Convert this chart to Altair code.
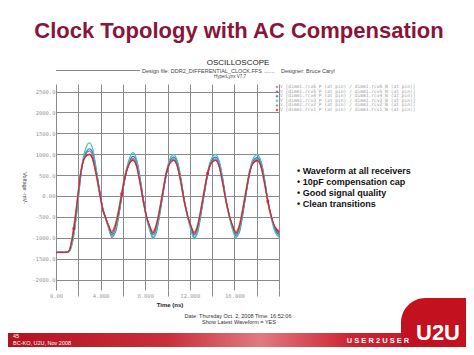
import altair as alt
import pandas as pd

# ---------------- data ----------------
t_ns = [0, 0.5, 1.0, 1.2, 1.4, 1.6, 1.8, 2.0, 2.2, 2.4,
        2.65, 3.0, 3.3, 3.6, 3.9, 4.2, 4.45, 4.7, 5.0, 5.3,
        5.6, 5.9, 6.2, 6.5, 6.9, 7.25, 7.55, 7.85, 8.1, 8.4,
        8.7, 9.0, 9.3, 9.6, 9.9, 10.2, 10.55, 10.9, 11.2, 11.5,
        11.8, 12.1, 12.4, 12.7, 13.0, 13.3, 13.6, 13.9, 14.3, 14.65,
        14.95, 15.25, 15.55, 15.85, 16.15, 16.45, 16.75, 17.05, 17.35, 17.65,
        18.05, 18.4, 18.7, 19.0, 19.3, 19.6, 20.0]

rcv6 = [-1350, -1350, -1348, -1315, -1150, -850, -450, 20, 480, 800,
        990, 1080, 960, 600, 130, -320, -530, -730, -920, -820,
        -470, 0, 460, 760, 900, 760, 360, -120, -480, -760,
        -930, -780, -390, 80, 540, 800, 890, 750, 370, -100,
        -480, -760, -940, -780, -390, 80, 530, 800, 890, 750,
        360, -110, -480, -760, -920, -780, -390, 80, 540, 800,
        880, 750, 360, -120, -490, -760, -910]
rcv5 = [-1350, -1350, -1345, -1310, -1120, -800, -400, 60, 500, 780,
        940, 990, 890, 570, 130, -300, -520, -740, -990, -860,
        -460, 20, 450, 720, 850, 710, 330, -130, -470, -740,
        -920, -750, -360, 90, 530, 770, 850, 710, 350, -110,
        -470, -740, -920, -750, -360, 90, 520, 770, 850, 710,
        340, -110, -470, -740, -910, -750, -360, 90, 530, 770,
        840, 710, 340, -120, -480, -740, -890]
rcv4 = [-1350, -1350, -1350, -1320, -1180, -900, -500, -30, 430, 790,
        1020, 1130, 1040, 640, 150, -300, -510, -720, -920, -880,
        -520, -20, 430, 760, 950, 830, 420, -100, -470, -770,
        -990, -870, -450, 50, 520, 830, 930, 810, 420, -80,
        -470, -770, -990, -870, -450, 50, 510, 820, 930, 810,
        420, -90, -480, -780, -960, -860, -450, 50, 520, 830,
        920, 810, 410, -100, -490, -780, -950]
rcv3 = [-1350, -1350, -1350, -1330, -1200, -950, -560, -80, 450, 850,
        1130, 1270, 1120, 650, 120, -340, -560, -760, -960, -850,
        -480, 20, 500, 830, 1040, 850, 380, -150, -520, -820,
        -1020, -840, -400, 100, 580, 880, 990, 820, 400, -120,
        -520, -820, -1030, -840, -400, 100, 570, 870, 990, 820,
        390, -130, -520, -820, -1000, -830, -400, 100, 580, 880,
        990, 820, 390, -140, -530, -830, -990]
rcv2 = [-1350, -1350, -1340, -1280, -1050, -700, -300, 150, 560, 820,
        960, 990, 850, 480, 40, -360, -530, -680, -840, -680,
        -330, 120, 520, 760, 870, 680, 260, -190, -490, -710,
        -850, -660, -280, 170, 580, 800, 860, 680, 290, -160,
        -480, -700, -860, -680, -280, 170, 580, 800, 860, 680,
        280, -160, -490, -710, -850, -680, -280, 170, 580, 800,
        850, 670, 280, -170, -500, -720, -830]
rcv1 = [-1350, -1350, -1345, -1300, -1100, -780, -380, 80, 520, 800,
        950, 1000, 880, 540, 100, -330, -520, -700, -880, -740,
        -400, 50, 470, 730, 860, 700, 300, -150, -470, -720,
        -880, -700, -330, 120, 550, 780, 860, 700, 330, -120,
        -470, -720, -890, -720, -330, 120, 540, 780, 860, 700,
        320, -120, -470, -720, -880, -720, -330, 120, 550, 780,
        850, 700, 320, -130, -480, -720, -860]

series_names = ["rcv6", "rcv5", "rcv4", "rcv3", "rcv2", "rcv1"]
series_values = [rcv6, rcv5, rcv4, rcv3, rcv2, rcv1]
series_colors = ["#9a7d8a", "#b05a8c", "#3f6fd8", "#3cc7b4", "#a3983a", "#d81e4c"]
marker_times = [1.6, 5.9, 13.6, 19.0]

x_ticks = [0, 2, 4, 6, 8, 10, 12, 14, 16, 18, 20]
y_ticks = [-2000, -1500, -1000, -500, 0, 500, 1000, 1500, 2000, 2500]

bullets = ["• Waveform at all receivers", "• 10pF compensation cap",
           "• Good signal quality", "• Clean transitions"]

# ---------------- tables ----------------
rows = []
for name, vals in zip(series_names, series_values):
    for t, v in zip(t_ns, vals):
        rows.append({"series": name, "t": t, "v": v})
df = pd.DataFrame(rows)
df_mark = df[(df.series == "rcv1") & (df.t.isin(marker_times))]

leg_df = pd.DataFrame({
    "series": series_names,
    "label": [f"V [dimm1.{n}_P (at pin) / dimm1.{n}_N (at pin)]" for n in series_names],
})
bul_df = pd.DataFrame({"k": list(range(len(bullets))), "text": bullets})

color = alt.Color("series:N", scale=alt.Scale(domain=series_names, range=series_colors), legend=None)
xs = alt.Scale(domain=[0, 20], nice=False, zero=False)
ys = alt.Scale(domain=[-2250, 2680], nice=False, zero=False)
MONO = "DejaVu Sans Mono"

x_axis = alt.Axis(
    values=x_ticks, grid=True, gridColor="#8a8a8a", gridWidth=1, domain=False,
    ticks=True, tickSize=6, tickColor="#8a8a8a",
    tickOpacity={"condition": {"test": "datum.value % 4 == 0 && datum.value < 20", "value": 0}, "value": 1},
    labelExpr="datum.value == 0 ? '0.00' : (datum.value % 4 == 0 && datum.value < 20 ? datum.value + '.000' : '')",
    labelFont=MONO, labelFontSize=5.5, labelColor="#9a9a9a", labelPadding=-3,
    labelFlush=False, labelOverlap=False, title="",
)
y_axis = alt.Axis(
    values=y_ticks, grid=True, gridColor="#8a8a8a", gridWidth=1, domain=False, ticks=False,
    labelExpr="datum.value == 0 ? '0.00' : datum.value + '.0'",
    labelFont=MONO, labelFontSize=5.5, labelColor="#9a9a9a", labelPadding=1,
    labelFlush=False, labelOverlap=False, title="",
)

lines = alt.Chart(df).mark_line(strokeWidth=1.2, interpolate="monotone").encode(
    x=alt.X("t:Q", scale=xs, axis=x_axis),
    y=alt.Y("v:Q", scale=ys, axis=y_axis),
    color=color,
)
marks = alt.Chart(df_mark).mark_point(shape="square", filled=True, size=7, opacity=1).encode(
    x=alt.X("t:Q", scale=xs, axis=x_axis), y=alt.Y("v:Q", scale=ys, axis=y_axis), color=color,
)
plot = alt.layer(lines, marks)

leg_y = alt.Y("series:N", sort=series_names, scale=alt.Scale(type="point", range=[3, 26], padding=0), axis=None)
leg_text = alt.Chart(leg_df).mark_text(align="left", baseline="middle", font=MONO, fontSize=4.6,
                                       color="#9a9a9a").encode(x=alt.value(224), y=leg_y, text="label:N")
leg_sym = alt.Chart(leg_df).mark_point(shape="cross", filled=True, size=6, opacity=1).encode(
    x=alt.value(221), y=leg_y, color=color)

bul_y = alt.Y("k:O", scale=alt.Scale(type="point", range=[89.5, 122.8], padding=0), axis=None)
bul_text = alt.Chart(bul_df).mark_text(align="left", baseline="alphabetic", font="Liberation Sans",
                                       fontSize=9, fontWeight="bold", color="#111111").encode(
    x=alt.value(241), y=bul_y, text="text:N")
legend = alt.layer(leg_sym, leg_text)

blank = alt.Data(values=[{"a": 1}])


def note(text, x, y, size, color="#333333", weight="normal", align="center",
         font="Liberation Sans", angle=0, baseline="alphabetic"):
    return alt.Chart(blank).mark_text(
        text=text, fontSize=size, color=color, fontWeight=weight, align=align,
        font=font, angle=angle, baseline=baseline,
    ).encode(x=alt.value(x), y=alt.value(y))


grad = {"gradient": "linear", "x1": 0, "x2": 1, "y1": 0, "y2": 0,
        "stops": [{"offset": 0, "color": "#b3121f"}, {"offset": 0.35, "color": "#c8303b"},
                  {"offset": 0.55, "color": "#e07a80"}, {"offset": 0.75, "color": "#cc2431"},
                  {"offset": 1, "color": "#c3111f"}]}
band = alt.Chart(blank).mark_rect(fill=grad).encode(
    x=alt.value(-48), x2=alt.value(410), y=alt.value(249), y2=alt.value(263))
swoosh = alt.Chart(blank).mark_rect(fill="#c3111f", cornerRadiusTopLeft=40).encode(
    x=alt.value(345), x2=alt.value(410), y=alt.value(214), y2=alt.value(263))
top_rule = alt.Chart(blank).mark_rule(color="#666666", strokeWidth=0.8).encode(
    x=alt.value(0), x2=alt.value(84), y=alt.value(-13.5))

decor = [
    band, swoosh, top_rule,
    note("Clock Topology with AC Compensation", 183, -46.5, 22, color="#8b1538", weight="bold"),
    note("OSCILLOSCOPE", 182, -19.5, 8, color="#222222"),
    note("Design file: DDR2_DIFFERENTIAL_CLOCK.FFS", 86, -11.5, 5.5, color="#444444", align="left"),
    note(".......", 208, -11.5, 5.5, color="#444444", align="left"),
    note("Designer: Bruce Caryl", 225, -11.5, 5.5, color="#444444", align="left"),
    note("HyperLynx V7.7", 174, -6, 4.5, color="#444444"),
    note("Voltage -mV-", -31, 104, 5.5, color="#444444", angle=90, baseline="middle"),
    note("Time  (ns)", 114, 223, 6, color="#222222", weight="bold"),
    note("Date: Thursday Oct. 2, 2008   Time: 16:52:06", 182, 233.5, 5.5, color="#333333"),
    note("Show Latest Waveform = YES", 183, 239.5, 5.5, color="#333333"),
    note("45", -43, 254, 5.5, color="#ffffff", align="left"),
    note("BC-KO, U2U,  Nov 2008", -43, 260.5, 5.5, color="#ffffff", align="left"),
    note("U S E R 2 U S E R", 322, 259, 7.5, color="#ffffff", weight="bold"),
    note("U2U", 382, 256, 22, color="#ffffff", weight="bold"),
]

chart = alt.layer(plot, legend, bul_text, *decor).resolve_scale(y="independent").properties(
    width=223, height=206,
    padding={"left": 48, "top": 76, "right": 187, "bottom": 57},
    autosize=alt.AutoSizeParams(type="none"),
).configure(font="Liberation Sans", background="#ffffff").configure_view(stroke="transparent")

chart.save("out.html", embed_options={"renderer": "svg", "actions": False})
